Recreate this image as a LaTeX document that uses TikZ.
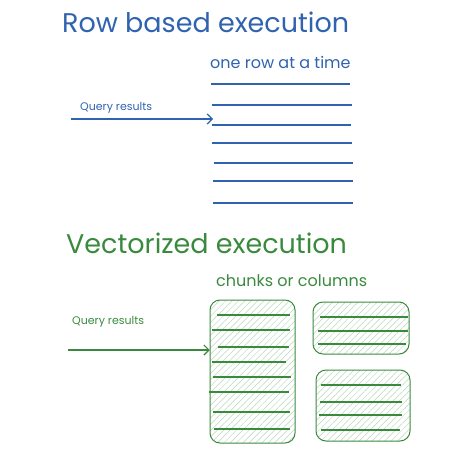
\documentclass[tikz,border=0pt]{standalone}
\usepackage{fontspec}
\setmainfont{Poppins}
\usepackage{tikz}
\usetikzlibrary{positioning,arrows.meta,patterns.meta}
\usepackage{xcolor}

\definecolor{rowblue}{RGB}{47,99,176}
\definecolor{vecgreen}{RGB}{58,138,62}

\tikzset{
  heading/.style={font=\fontsize{27}{30}\selectfont, anchor=west, inner sep=0pt},
  subhead/.style={font=\fontsize{16}{18}\selectfont, anchor=west, inner sep=0pt},
  qlabel/.style={font=\fontsize{11}{13}\selectfont, anchor=west, inner sep=0pt},
  rowline/.style={rowblue, line width=1.3pt},
  chunkline/.style={vecgreen, line width=1.3pt},
  chunk/.style={draw=vecgreen, line width=1pt, rounded corners=10pt,
    pattern={Lines[angle=45, distance=4.5pt, line width=0.5pt]},
    pattern color=vecgreen!35},
  flow/.style={-{Straight Barb[length=5pt,width=10pt]}, line width=1.2pt}
}

\begin{document}
\begin{tikzpicture}[x=1pt,y=-1pt]
  % 1pt = 1px of the 474x463 frame, y grows downwards
  \useasboundingbox (0,0) rectangle (474,463);

  % Row based execution
  \node[heading, rowblue] (rowtitle) at (62,22) {Row based execution};
  \node[subhead, rowblue] (rowcap) at (210,62) {one row at a time};
  \foreach \y/\a/\b in {84/211/350, 105/212/352, 125/212/351, 143/212/352,
                        163/214/353, 181/213/353, 203/213/353} {
    \draw[rowline] (\a,\y) -- (\b,\y);
  }
  \node[qlabel, rowblue] (rowq) at (80,108) {Query results};
  \coordinate (rowsrc) at (71,119);
  \coordinate (rowin) at (213,119);
  \draw[flow, rowblue] (rowsrc) -- (rowin);

  % Vectorized execution
  \node[heading, vecgreen] (vectitle) at (66,243) {Vectorized execution};
  \node[subhead, vecgreen] (veccap) at (216,281) {chunks or columns};
  \node[qlabel, vecgreen] (vecq) at (72,322) {Query results};

  % chunks
  \node[chunk, minimum width=85pt, minimum height=143pt] (bigchunk) at (252.5,371.5) {};
  \node[chunk, minimum width=96pt, minimum height=52pt] (topchunk) at (361,328) {};
  \node[chunk, minimum width=94pt, minimum height=71pt] (lowchunk) at (363,405.5) {};

  \foreach \y/\a/\b in {315/217/290, 330/212/290, 347/218/289, 362/212/286,
                        377/213/291, 392/209/289, 412/213/290, 429/214/290} {
    \draw[chunkline] (\a,\y) -- (\b,\y);
  }
  \foreach \y/\a/\b in {317/320/408, 331/318/408, 344/318/406} {
    \draw[chunkline] (\a,\y) -- (\b,\y);
  }
  \foreach \y/\a/\b in {385/321/401, 402/320/402, 415/319/402, 430/321/400} {
    \draw[chunkline] (\a,\y) -- (\b,\y);
  }

  \coordinate (vecsrc) at (68,350);
  \draw[flow, vecgreen] (vecsrc) -- (vecsrc -| bigchunk.west);
\end{tikzpicture}
\end{document}
